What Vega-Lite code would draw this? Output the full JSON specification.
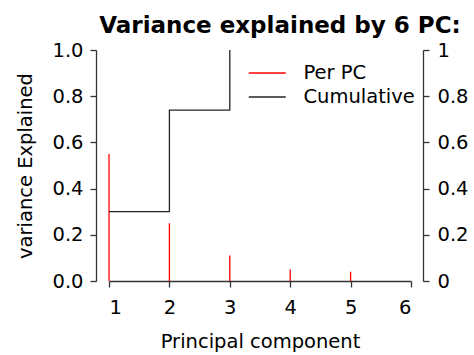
{
  "$schema": "https://vega.github.io/schema/vega-lite/v6.json",
  "autosize": {"type": "none"},
  "width": 302,
  "height": 231,
  "padding": {"left": 109, "top": 50, "right": 63, "bottom": 74},
  "background": "white",
  "config": {
    "view": {"stroke": null},
    "font": "DejaVu Sans",
    "axis": {"grid": false, "domainColor": "#333333", "tickColor": "#333333", "labelColor": "black", "titleColor": "black", "labelFontSize": 19.5, "titleFontSize": 19.5, "titleFontWeight": "normal", "tickSize": 6, "labelPadding": 7, "domainWidth": 1.3, "tickWidth": 1.3}
  },
  "title": {"text": "Variance explained by 6 PC:", "fontSize": 23, "fontWeight": "bold", "anchor": "middle", "dx": 20, "offset": 2, "color": "black"},
  "datasets": {
    "perpc": [
      {"pc": 1, "v": 0.55, "s": "Per PC"},
      {"pc": 2, "v": 0.25, "s": "Per PC"},
      {"pc": 3, "v": 0.11, "s": "Per PC"},
      {"pc": 4, "v": 0.05, "s": "Per PC"},
      {"pc": 5, "v": 0.04, "s": "Per PC"}
    ],
    "cum": [
      {"pc": 1, "v": 0.30, "s": "Cumulative"},
      {"pc": 2, "v": 0.74, "s": "Cumulative"},
      {"pc": 3, "v": 1.0, "s": "Cumulative"}
    ]
  },
  "layer": [
    {
      "data": {"name": "perpc"},
      "mark": {"type": "rule", "strokeWidth": 1.3},
      "encoding": {
        "x": {"field": "pc", "type": "quantitative", "scale": {"domain": [1, 6], "nice": false}, "axis": {"title": "Principal component", "values": [1, 2, 3, 4, 5, 6], "format": "d", "labelPadding": 11, "titlePadding": 16}},
        "y": {"field": "v", "type": "quantitative", "scale": {"domain": [0, 1], "nice": false}, "axis": {"title": "variance Explained", "offset": 13, "values": [0, 0.2, 0.4, 0.6, 0.8, 1.0], "format": ".1f", "titlePadding": 16}},
        "y2": {"datum": 0},
        "stroke": {"field": "s", "type": "nominal", "scale": {"domain": ["Per PC", "Cumulative"], "range": ["#ff0000", "#222222"]}, "legend": {"title": null, "orient": "none", "legendX": 139, "legendY": 13, "symbolType": "M-1,0H3", "symbolSize": 342, "symbolStrokeWidth": 1.3, "labelFontSize": 19.5, "labelColor": "black", "rowPadding": 4, "labelOffset": 35.5, "encode": {"symbols": {"update": {"angle": {"value": 0}}}}}}
      }
    },
    {
      "data": {"name": "cum"},
      "mark": {"type": "line", "interpolate": "step-after", "strokeWidth": 1.3},
      "encoding": {
        "x": {"field": "pc", "type": "quantitative"},
        "y": {"field": "v", "type": "quantitative", "scale": {"domain": [0, 1], "nice": false}, "axis": {"orient": "right", "title": null, "offset": 12, "labelPadding": 8, "values": [0, 0.2, 0.4, 0.6, 0.8, 1.0], "format": "~g"}},
        "stroke": {"field": "s", "type": "nominal"}
      }
    }
  ],
  "resolve": {"scale": {"y": "independent"}}
}
